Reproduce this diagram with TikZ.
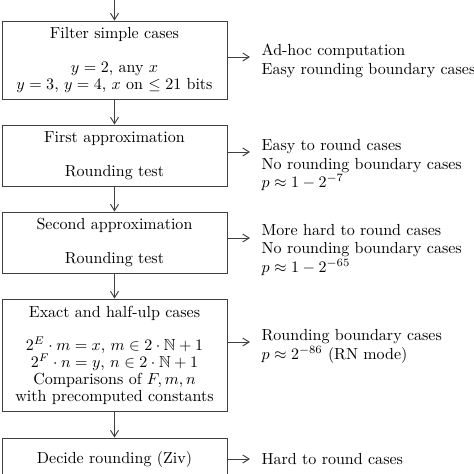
\documentclass[tikz,border=0pt]{standalone}
\usepackage{amsmath, amssymb}
\usepackage{tikz}
\usetikzlibrary{arrows.meta, positioning}

\begin{document}
\begin{tikzpicture}[>={Straight Barb[length=4pt,width=5pt]},
    stagebox/.style={draw=black!75, semithick, minimum width=4.937cm, inner sep=0pt,
        align=center, font=\fontsize{10}{10.5}\selectfont},
    note/.style={anchor=west, align=left, font=\fontsize{10}{11.5}\selectfont},
    flow/.style={->, draw=black!75, semithick}]
    \useasboundingbox (0,0) rectangle (10.4,10.4);

    % Les étapes de l'algorithme
    \node[stagebox, minimum height=1.711cm] (filter) at (2.512, 9.083)
        {Filter simple cases\\[10.5pt] $y=2$, any $x$\\ $y=3$, $y=4$, $x$ on $\le 21$ bits};
    \node[stagebox, minimum height=1.338cm] (first) at (2.512, 6.988)
        {First approximation\\[10.5pt] Rounding test};
    \node[stagebox, minimum height=1.338cm] (second) at (2.512, 5.079)
        {Second approximation\\[10.5pt] Rounding test};
    \node[stagebox, minimum height=2.457cm] (exact) at (2.512, 2.611)
        {Exact and half-ulp cases\\[10.5pt]
         $2^E\cdot m = x$, $m\in 2\cdot\mathbb{N}+1$\\
         $2^F\cdot n = y$, $n\in 2\cdot\mathbb{N}+1$\\
         Comparisons of $F, m, n$\\ with precomputed constants};
    \node[stagebox, minimum height=0.921cm] (ziv) at (2.512, 0.329)
        {Decide rounding (Ziv)};

    % Les cas traités à chaque étape
    \node[note] (n1) at (5.617, 9.061) {Ad-hoc computation\\ Easy rounding boundary cases};
    \node[note] (n2) at (5.617, 6.779) {Easy to round cases\\ No rounding boundary cases\\ $p\approx 1-2^{-7}$};
    \node[note] (n3) at (5.617, 4.915) {More hard to round cases\\ No rounding boundary cases\\ $p\approx 1-2^{-65}$};
    \node[note] (n4) at (5.617, 2.797) {Rounding boundary cases\\ $p\approx 2^{-86}$ (RN mode)};
    \node[note] (n5) at (5.617, 0.329) {Hard to round cases};

    % Flèches verticales
    \coordinate (top) at (2.512, 10.4);
    \draw[flow] (top) -- (filter);
    \draw[flow] (filter) -- (first);
    \draw[flow] (first) -- (second);
    \draw[flow] (second) -- (exact);
    \draw[flow] (exact) -- (ziv);

    % Flèches vers les notes
    \draw[flow] (filter.east |- 0, 9.149) -- (5.485, 9.149);
    \draw[flow] (first.east |- 0, 7.065) -- (5.485, 7.065);
    \draw[flow] (second.east |- 0, 5.178) -- (5.485, 5.178);
    \draw[flow] (exact.east |- 0, 2.896) -- (5.485, 2.896);
    \draw[flow] (ziv.east) -- (5.485, 0.329);
\end{tikzpicture}
\end{document}
